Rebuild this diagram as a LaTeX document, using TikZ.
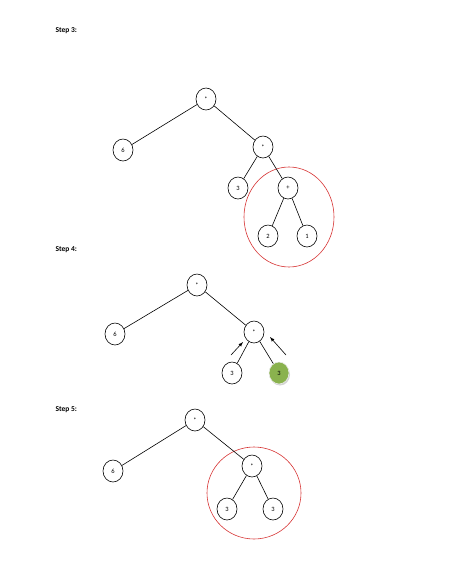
\documentclass[tikz,border=0pt]{standalone}
\usepackage{fontspec}
\setmainfont{Carlito}
\usetikzlibrary{shapes.geometric}
\usetikzlibrary{shadows}
\definecolor{leafgreen}{RGB}{138,178,78}
\tikzset{
  treenode/.style={ellipse,draw,line width=0.6pt,minimum width=20pt,minimum height=22pt,inner sep=0pt,font=\fontsize{6.5}{7}\selectfont},
  donenode/.style={treenode,fill=leafgreen,draw=white!85!gray,drop shadow={opacity=0.35,shadow xshift=1pt,shadow yshift=-1.5pt}},
  hoop/.style={draw=red!80!black!80,line width=0.6pt},
  steplabel/.style={font=\fontsize{7.5}{8}\selectfont\bfseries,anchor=west}
}
\begin{document}
\begin{tikzpicture}[x=1pt,y=-1pt,line width=0.6pt]
\useasboundingbox (0,0) rectangle (474,565);

% step 3
\node[steplabel] (s3) at (52,31) {Step 3:};
\draw[hoop] (289,217) ellipse (45 and 50);
\node[treenode] (a0) at (206,99) {*};
\node[treenode] (a1) at (123,150) {6};
\node[treenode] (a2) at (263,147) {*};
\node[treenode] (a3) at (238,188) {3};
\node[treenode] (a4) at (288,188) {+};
\node[treenode] (a5) at (268,236) {2};
\node[treenode] (a6) at (307,236) {1};
\draw (a0) -- (a1);
\draw (a0) -- (a2);
\draw (a2) -- (a3);
\draw (a2) -- (a4);
\draw (a4) -- (a5);
\draw (a4) -- (a6);

% step 4
\node[steplabel] (s4) at (52,250) {Step 4:};
\node[treenode] (b0) at (197,285) {*};
\node[treenode] (b1) at (115,334) {6};
\node[treenode] (b2) at (254,332) {*};
\node[treenode] (b3) at (232,373) {3};
\node[donenode] (b4) at (279,373) {3};
\draw (b0) -- (b1);
\draw (b0) -- (b2);
\draw (b2) -- (b3);
\draw (b2) -- (b4);
\coordinate (p1) at (231,355);
\coordinate (q1) at (243,342);
\coordinate (p2) at (286,355);
\coordinate (q2) at (270,337);
\draw[-latex] (p1) -- (q1);
\draw[-latex] (p2) -- (q2);

% step 5
\node[steplabel] (s5) at (52,410) {Step 5:};
\draw[hoop] (254,493) ellipse (47 and 46);
\node[treenode] (c0) at (195,420) {*};
\node[treenode] (c1) at (113,471) {6};
\node[treenode] (c2) at (252,466) {*};
\node[treenode] (c3) at (227,509) {3};
\node[treenode] (c4) at (273,509) {3};
\draw (c0) -- (c1);
\draw (c0) -- (c2);
\draw (c2) -- (c3);
\draw (c2) -- (c4);

\end{tikzpicture}
\end{document}
